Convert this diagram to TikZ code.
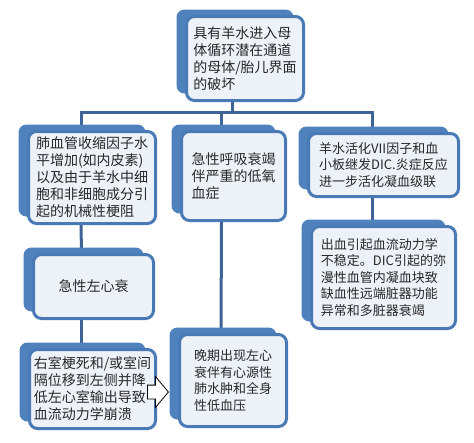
\documentclass[tikz,border=0pt]{standalone}
\usepackage{fontspec}
\newfontfamily\cjk{Noto Sans CJK SC}
\usetikzlibrary{shadows,shapes.arrows,backgrounds}
\definecolor{backblue}{RGB}{79,129,189}
\definecolor{edgeblue}{RGB}{74,122,181}
\definecolor{paleblue}{RGB}{237,241,248}
\definecolor{linkblue}{RGB}{62,99,150}
\definecolor{textgray}{RGB}{40,40,40}
\begin{document}
\begin{tikzpicture}[x=1pt,y=-1pt,
  box/.style={draw=edgeblue, line width=3pt, fill=paleblue, rounded corners=8pt,
    align=left, inner xsep=3pt, inner ysep=4pt, text=textgray,
    font=\cjk\fontsize{14}{17}\selectfont,
    general shadow={fill=backblue, shadow xshift=-10pt, shadow yshift=7pt}},
  small/.style={font=\cjk\fontsize{13}{16.5}\selectfont},
  link/.style={draw=linkblue, line width=3pt},
  fatarrow/.style={single arrow, draw=black, fill=white, line width=0.8pt,
    inner sep=6.5pt, minimum height=21pt, single arrow head extend=8.5pt,
    single arrow tip angle=100}]
  \useasboundingbox (0,0) rectangle (474,442);
  % boxes
  \node[box, minimum width=117, minimum height=84] (top) at (245,58.5)
    {具有羊水进入母\\体循环潜在通道\\的母体/胎儿界面\\的破坏};
  \node[box, minimum width=127, minimum height=92] (lung) at (92,177.5)
    {肺血管收缩因子水\\平增加(如内皮素)\\以及由于羊水中细\\胞和非细胞成分引\\起的机械性梗阻};
  \node[box, minimum width=104, minimum height=89] (resp) at (233.5,176)
    {急性呼吸衰竭\\伴严重的低氧\\血症};
  \node[box, small, minimum width=150, minimum height=63] (dic) at (383.5,165)
    {羊水活化VII因子和血\\小板继发DIC.炎症反应\\进一步活化凝血级联};
  \node[box, small, minimum width=144, minimum height=102] (bleed) at (383.5,277.5)
    {出血引起血流动力学\\不稳定。DIC引起的弥\\漫性血管内凝血块致\\缺血性远端脏器功能\\异常和多脏器衰竭};
  \node[box, minimum width=120, minimum height=64] (lhf) at (93.5,286.5)
    {急性左心衰};
  \node[box, minimum width=126, minimum height=79] (rv) at (92.5,389)
    {右室梗死和/或室间\\隔位移到左侧并降\\低左心室输出导致\\血流动力学崩溃};
  \node[box, small, minimum width=107, minimum height=92] (late) at (233,380.5)
    {晚期出现左心\\衰伴有心源性\\肺水肿和全身\\性低血压};
  % connectors
  \coordinate (bus) at ([xshift=-13pt, yshift=-10pt]top.south);
  \coordinate (lungT) at ([xshift=-11pt]lung.north);
  \coordinate (respT) at ([xshift=-12pt]resp.north);
  \coordinate (dicT) at ([xshift=-11.5pt]dic.north);
  \begin{scope}[on background layer]
    \draw[link] ([xshift=-13pt]top.south) -- (bus);
    \draw[link] (lungT) |- (bus) -| (dicT);
    \draw[link] (bus -| respT) -- (respT);
    \draw[link] ([xshift=-11pt]lung.south) -- ([xshift=-12pt]lhf.north);
    \draw[link] ([xshift=-12pt]lhf.south) -- ([xshift=-11pt]rv.north);
    \draw[link] ([xshift=-12pt]resp.south) -- ([xshift=-12pt]late.north);
    \draw[link] ([xshift=-11.5pt]dic.south) -- ([xshift=-11.5pt]bleed.north);
  \end{scope}
  \node[fatarrow, anchor=tail] (push) at ([xshift=-10pt, yshift=-3pt]rv.east) {};
\end{tikzpicture}
\end{document}
